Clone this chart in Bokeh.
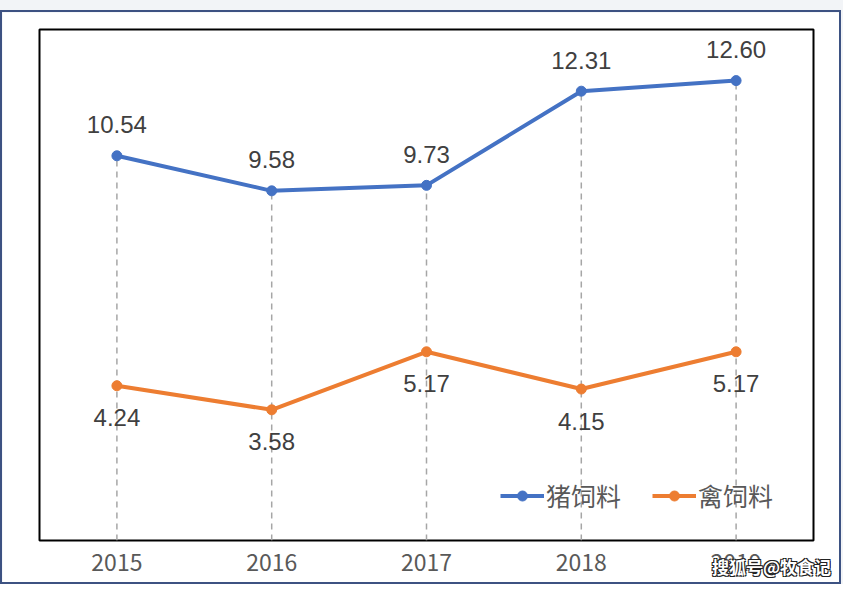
from bokeh.plotting import figure
from bokeh.models import (ColumnDataSource, LabelSet, Column, Div,
                          Legend, LegendItem, FactorRange)
from bokeh.core.properties import value
from bokeh.embed import file_html
from bokeh.resources import INLINE

# Feed consumption data (years and two series)
years = ["2015", "2016", "2017", "2018", "2019"]
pig_feed = [10.54, 9.58, 9.73, 12.31, 12.60]
poultry_feed = [4.24, 3.58, 5.17, 4.15, 5.17]
series_names = ["猪饲料", "禽饲料"]
source_mark = "搜狐号@牧食记"

BLUE = "#4472C4"
ORANGE = "#ED7D31"

src = ColumnDataSource(dict(
    year=years,
    pig=pig_feed,
    poultry=poultry_feed,
    pig_txt=[f"{v:.2f}" for v in pig_feed],
    poultry_txt=[f"{v:.2f}" for v in poultry_feed],
    zero=[0] * len(years),
))

p = figure(width=841, height=574, x_range=FactorRange(*years), y_range=(0, 14),
           output_backend="svg", toolbar_location=None,
           min_border_left=37, min_border_right=30,
           min_border_top=17, min_border_bottom=46)
p.background_fill_color = "white"
p.border_fill_color = "white"
p.outline_line_color = "black"
p.outline_line_width = 2
p.xgrid.visible = False
p.ygrid.visible = False
p.yaxis.visible = False

ax = p.xaxis[0]
ax.axis_line_color = None
ax.major_tick_line_color = None
ax.minor_tick_line_color = None
ax.major_tick_out = 0
ax.major_tick_in = 0
ax.major_label_standoff = 13
ax.major_label_text_font = "Noto Sans CJK SC"
ax.major_label_text_font_size = "23px"
ax.major_label_text_color = "#595959"

# drop lines from the upper series down to the axis
p.segment(x0="year", y0="zero", x1="year", y1="pig", source=src,
          line_color="#a6a6a6", line_width=1.5, line_dash="6 5")

l1 = p.line("year", "pig", source=src, line_color=BLUE, line_width=4)
m1 = p.scatter("year", "pig", source=src, size=10, fill_color=BLUE, line_color=BLUE)
l2 = p.line("year", "poultry", source=src, line_color=ORANGE, line_width=4)
m2 = p.scatter("year", "poultry", source=src, size=10, fill_color=ORANGE, line_color=ORANGE)

label_style = dict(text_align="center", text_baseline="middle",
                   text_font=value("Liberation Sans"), text_font_size=value("24px"),
                   text_color="#404040")
p.add_layout(LabelSet(x="year", y="pig", text="pig_txt", source=src,
                      y_offset=31, **label_style))
p.add_layout(LabelSet(x="year", y="poultry", text="poultry_txt", source=src,
                      y_offset=-32, **label_style))

legend = Legend(items=[LegendItem(label=series_names[0], renderers=[l1, m1]),
                       LegendItem(label=series_names[1], renderers=[l2, m2])],
                location=(461, 27), orientation="horizontal",
                glyph_width=44, glyph_height=25, label_height=25,
                label_standoff=2, spacing=31, padding=0, margin=0,
                border_line_color=None, background_fill_alpha=0,
                label_text_font="Noto Sans CJK SC", label_text_font_size="25px",
                label_text_color="#595959")
p.add_layout(legend, "center")

# framed chart area on a pale page
p.styles = {"border": "2px solid #3d5282"}

# outlined source mark over the lower right corner
mark = Div(text=source_mark, width=126, height=24,
           styles={"margin-top": "-29px", "margin-left": "712px",
                   "font-family": "Noto Sans CJK SC", "font-size": "17px",
                   "font-weight": "bold", "line-height": "24px",
                   "color": "white", "white-space": "nowrap",
                   "text-shadow": "1px 1px 0 #222, -1px -1px 0 #222, "
                                  "1px -1px 0 #222, -1px 1px 0 #222"})

page = Column(children=[p, mark], styles={"background-color": "#f2f4f7",
                                          "padding-top": "10px"})

open("out.html", "w").write(file_html(page, INLINE))
